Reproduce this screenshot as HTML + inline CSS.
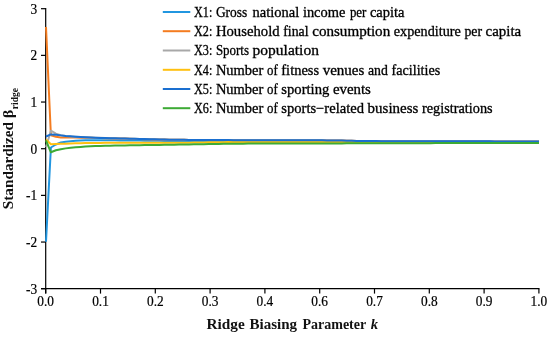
<!DOCTYPE html>
<html lang="en"><head><meta charset="utf-8"><title>Ridge trace</title>
<style>
html,body{margin:0;padding:0;background:#fff;}
body{width:550px;height:337px;overflow:hidden;}
svg{display:block;font-family:"Liberation Serif","DejaVu Serif",serif;}
.ax line{stroke:#000;stroke-width:1.2;}
.cv path{fill:none;stroke-width:2.0;stroke-linejoin:round;stroke-linecap:butt;}
.tk text{font-size:14.3px;fill:#000;stroke:#000;stroke-width:0.2;}
.lg text{font-size:14px;fill:#000;stroke:#000;stroke-width:0.3;}
.lb{font-weight:bold;font-size:14.3px;fill:#111;}
</style></head><body>
<svg width="550" height="337" viewBox="0 0 550 337">
<rect width="550" height="337" fill="#fff"/>
<g class="ax">
<line x1="45.7" y1="8.1" x2="45.7" y2="293.6"/>
<line x1="41" y1="288.7" x2="539.5" y2="288.7"/>
<line x1="41" y1="8.70" x2="45.7" y2="8.70"/>
<line x1="41" y1="55.37" x2="45.7" y2="55.37"/>
<line x1="41" y1="102.04" x2="45.7" y2="102.04"/>
<line x1="41" y1="148.71" x2="45.7" y2="148.71"/>
<line x1="41" y1="195.38" x2="45.7" y2="195.38"/>
<line x1="41" y1="242.05" x2="45.7" y2="242.05"/>
<line x1="41" y1="288.72" x2="45.7" y2="288.72"/>
<line x1="45.70" y1="288.7" x2="45.70" y2="293.6"/>
<line x1="100.50" y1="288.7" x2="100.50" y2="293.6"/>
<line x1="155.30" y1="288.7" x2="155.30" y2="293.6"/>
<line x1="210.10" y1="288.7" x2="210.10" y2="293.6"/>
<line x1="264.90" y1="288.7" x2="264.90" y2="293.6"/>
<line x1="319.70" y1="288.7" x2="319.70" y2="293.6"/>
<line x1="374.50" y1="288.7" x2="374.50" y2="293.6"/>
<line x1="429.30" y1="288.7" x2="429.30" y2="293.6"/>
<line x1="484.10" y1="288.7" x2="484.10" y2="293.6"/>
<line x1="538.90" y1="288.7" x2="538.90" y2="293.6"/>
</g>
<g class="cv">
<path d="M46.0,241.80 L50.9,147.50 L55.9,144.50 L60.8,142.47 L65.7,141.71 L70.7,141.21 L75.6,140.76 L80.5,140.43 L85.4,140.24 L90.4,140.20 L95.3,140.22 L100.2,140.25 L105.2,140.28 L110.1,140.32 L115.0,140.36 L120.0,140.40 L124.9,140.44 L129.8,140.50 L134.7,140.56 L139.7,140.62 L144.6,140.68 L149.5,140.74 L154.5,140.80 L159.4,140.85 L164.3,140.89 L169.2,140.93 L174.2,140.97 L179.1,141.00 L184.0,141.02 L189.0,141.04 L193.9,141.06 L198.8,141.08 L203.8,141.09 L208.7,141.11 L213.6,141.12 L218.6,141.13 L223.5,141.15 L228.4,141.16 L233.3,141.17 L238.3,141.18 L243.2,141.19 L248.1,141.20 L253.1,141.21 L258.0,141.21 L262.9,141.22 L267.9,141.22 L272.8,141.23 L277.7,141.23 L282.6,141.23 L287.6,141.24 L292.5,141.24 L297.4,141.25 L302.4,141.25 L307.3,141.26 L312.2,141.27 L317.1,141.27 L322.1,141.28 L327.0,141.29 L331.9,141.31 L336.9,141.36 L341.8,141.44 L346.7,141.53 L351.7,141.61 L356.6,141.68 L361.5,141.71 L366.4,141.73 L371.4,141.75 L376.3,141.76 L381.2,141.78 L386.2,141.80 L391.1,141.81 L396.0,141.83 L401.0,141.84 L405.9,141.85 L410.8,141.87 L415.8,141.88 L420.7,141.89 L425.6,141.90 L430.5,141.91 L435.5,141.92 L440.4,141.93 L445.3,141.94 L450.3,141.94 L455.2,141.95 L460.1,141.96 L465.1,141.96 L470.0,141.97 L474.9,141.97 L479.8,141.98 L484.8,141.98 L489.7,141.98 L494.6,141.99 L499.6,141.99 L504.5,141.99 L509.4,141.99 L514.4,142.00 L519.3,142.00 L524.2,142.00 L529.1,142.00 L534.1,142.00 L539.0,142.00" stroke="#2196E0"/>
<path d="M46.0,27.00 L50.9,135.20 L55.9,136.80 L60.8,137.50 L65.7,137.50 L70.7,137.51 L75.6,137.57 L80.5,137.65 L85.4,137.74 L90.4,137.82 L95.3,137.92 L100.2,138.03 L105.2,138.15 L110.1,138.27 L115.0,138.39 L120.0,138.50 L124.9,138.62 L129.8,138.75 L134.7,138.88 L139.7,139.02 L144.6,139.15 L149.5,139.27 L154.5,139.39 L159.4,139.49 L164.3,139.59 L169.2,139.67 L174.2,139.73 L179.1,139.79 L184.0,139.84 L189.0,139.88 L193.9,139.92 L198.8,139.96 L203.8,139.99 L208.7,140.02 L213.6,140.05 L218.6,140.08 L223.5,140.10 L228.4,140.12 L233.3,140.14 L238.3,140.16 L243.2,140.18 L248.1,140.19 L253.1,140.21 L258.0,140.22 L262.9,140.23 L267.9,140.24 L272.8,140.25 L277.7,140.26 L282.6,140.26 L287.6,140.27 L292.5,140.28 L297.4,140.29 L302.4,140.31 L307.3,140.32 L312.2,140.33 L317.1,140.34 L322.1,140.36 L327.0,140.38 L331.9,140.42 L336.9,140.50 L341.8,140.61 L346.7,140.74 L351.7,140.86 L356.6,140.96 L361.5,141.01 L366.4,141.05 L371.4,141.08 L376.3,141.11 L381.2,141.13 L386.2,141.15 L391.1,141.17 L396.0,141.19 L401.0,141.20 L405.9,141.22 L410.8,141.23 L415.8,141.24 L420.7,141.25 L425.6,141.26 L430.5,141.28 L435.5,141.29 L440.4,141.30 L445.3,141.31 L450.3,141.32 L455.2,141.33 L460.1,141.33 L465.1,141.34 L470.0,141.35 L474.9,141.36 L479.8,141.36 L484.8,141.37 L489.7,141.37 L494.6,141.38 L499.6,141.38 L504.5,141.39 L509.4,141.39 L514.4,141.39 L519.3,141.40 L524.2,141.40 L529.1,141.40 L534.1,141.40 L539.0,141.40" stroke="#F47C20"/>
<path d="M46.0,147.00 L50.9,130.70 L55.9,133.60 L60.8,135.22 L65.7,135.98 L70.7,136.48 L75.6,136.83 L80.5,137.11 L85.4,137.34 L90.4,137.55 L95.3,137.72 L100.2,137.87 L105.2,138.01 L110.1,138.14 L115.0,138.27 L120.0,138.40 L124.9,138.54 L129.8,138.68 L134.7,138.83 L139.7,138.98 L144.6,139.12 L149.5,139.25 L154.5,139.37 L159.4,139.48 L164.3,139.58 L169.2,139.66 L174.2,139.73 L179.1,139.79 L184.0,139.84 L189.0,139.88 L193.9,139.92 L198.8,139.96 L203.8,139.99 L208.7,140.02 L213.6,140.05 L218.6,140.08 L223.5,140.10 L228.4,140.12 L233.3,140.14 L238.3,140.16 L243.2,140.18 L248.1,140.19 L253.1,140.21 L258.0,140.22 L262.9,140.23 L267.9,140.24 L272.8,140.25 L277.7,140.26 L282.6,140.26 L287.6,140.27 L292.5,140.28 L297.4,140.29 L302.4,140.31 L307.3,140.32 L312.2,140.33 L317.1,140.34 L322.1,140.36 L327.0,140.38 L331.9,140.42 L336.9,140.50 L341.8,140.61 L346.7,140.74 L351.7,140.86 L356.6,140.96 L361.5,141.01 L366.4,141.05 L371.4,141.08 L376.3,141.11 L381.2,141.13 L386.2,141.15 L391.1,141.17 L396.0,141.19 L401.0,141.20 L405.9,141.22 L410.8,141.23 L415.8,141.24 L420.7,141.25 L425.6,141.26 L430.5,141.28 L435.5,141.29 L440.4,141.30 L445.3,141.31 L450.3,141.32 L455.2,141.33 L460.1,141.33 L465.1,141.34 L470.0,141.35 L474.9,141.36 L479.8,141.36 L484.8,141.37 L489.7,141.37 L494.6,141.38 L499.6,141.38 L504.5,141.39 L509.4,141.39 L514.4,141.39 L519.3,141.40 L524.2,141.40 L529.1,141.40 L534.1,141.40 L539.0,141.40" stroke="#A8A8A8"/>
<path d="M46.0,139.60 L50.9,144.20 L55.9,144.00 L60.8,143.84 L65.7,143.69 L70.7,143.54 L75.6,143.35 L80.5,143.19 L85.4,143.06 L90.4,142.99 L95.3,142.94 L100.2,142.90 L105.2,142.86 L110.1,142.84 L115.0,142.82 L120.0,142.80 L124.9,142.79 L129.8,142.78 L134.7,142.77 L139.7,142.76 L144.6,142.76 L149.5,142.75 L154.5,142.75 L159.4,142.74 L164.3,142.73 L169.2,142.72 L174.2,142.71 L179.1,142.70 L184.0,142.68 L189.0,142.64 L193.9,142.58 L198.8,142.52 L203.8,142.45 L208.7,142.37 L213.6,142.30 L218.6,142.23 L223.5,142.17 L228.4,142.12 L233.3,142.07 L238.3,142.04 L243.2,142.01 L248.1,142.00 L253.1,142.00 L258.0,142.00 L262.9,142.00 L267.9,142.00 L272.8,142.00 L277.7,142.00 L282.6,142.00 L287.6,142.00 L292.5,142.00 L297.4,142.00 L302.4,142.00 L307.3,142.00 L312.2,142.00 L317.1,142.00 L322.1,142.00 L327.0,142.00 L331.9,142.00 L336.9,142.01 L341.8,142.03 L346.7,142.05 L351.7,142.08 L356.6,142.09 L361.5,142.10 L366.4,142.11 L371.4,142.11 L376.3,142.12 L381.2,142.13 L386.2,142.13 L391.1,142.14 L396.0,142.14 L401.0,142.15 L405.9,142.15 L410.8,142.15 L415.8,142.16 L420.7,142.16 L425.6,142.16 L430.5,142.17 L435.5,142.17 L440.4,142.17 L445.3,142.18 L450.3,142.18 L455.2,142.18 L460.1,142.18 L465.1,142.19 L470.0,142.19 L474.9,142.19 L479.8,142.19 L484.8,142.19 L489.7,142.19 L494.6,142.20 L499.6,142.20 L504.5,142.20 L509.4,142.20 L514.4,142.20 L519.3,142.20 L524.2,142.20 L529.1,142.20 L534.1,142.20 L539.0,142.20" stroke="#FFC010"/>
<path d="M46.0,136.50 L50.9,134.40 L55.9,134.80 L60.8,135.37 L65.7,135.93 L70.7,136.36 L75.6,136.73 L80.5,137.06 L85.4,137.33 L90.4,137.55 L95.3,137.73 L100.2,137.88 L105.2,138.01 L110.1,138.14 L115.0,138.27 L120.0,138.40 L124.9,138.54 L129.8,138.68 L134.7,138.83 L139.7,138.98 L144.6,139.12 L149.5,139.25 L154.5,139.37 L159.4,139.48 L164.3,139.58 L169.2,139.66 L174.2,139.73 L179.1,139.79 L184.0,139.84 L189.0,139.88 L193.9,139.92 L198.8,139.96 L203.8,139.99 L208.7,140.02 L213.6,140.05 L218.6,140.08 L223.5,140.10 L228.4,140.12 L233.3,140.14 L238.3,140.16 L243.2,140.18 L248.1,140.19 L253.1,140.21 L258.0,140.22 L262.9,140.23 L267.9,140.24 L272.8,140.25 L277.7,140.26 L282.6,140.26 L287.6,140.27 L292.5,140.28 L297.4,140.29 L302.4,140.31 L307.3,140.32 L312.2,140.33 L317.1,140.34 L322.1,140.36 L327.0,140.38 L331.9,140.42 L336.9,140.50 L341.8,140.61 L346.7,140.74 L351.7,140.86 L356.6,140.96 L361.5,141.01 L366.4,141.05 L371.4,141.08 L376.3,141.11 L381.2,141.13 L386.2,141.15 L391.1,141.17 L396.0,141.19 L401.0,141.20 L405.9,141.22 L410.8,141.23 L415.8,141.24 L420.7,141.25 L425.6,141.26 L430.5,141.28 L435.5,141.29 L440.4,141.30 L445.3,141.31 L450.3,141.32 L455.2,141.33 L460.1,141.33 L465.1,141.34 L470.0,141.35 L474.9,141.36 L479.8,141.36 L484.8,141.37 L489.7,141.37 L494.6,141.38 L499.6,141.38 L504.5,141.39 L509.4,141.39 L514.4,141.39 L519.3,141.40 L524.2,141.40 L529.1,141.40 L534.1,141.40 L539.0,141.40" stroke="#1A6FD0"/>
<path d="M46.0,140.50 L50.9,152.30 L55.9,150.30 L60.8,149.21 L65.7,148.38 L70.7,147.80 L75.6,147.37 L80.5,146.94 L85.4,146.53 L90.4,146.25 L95.3,146.06 L100.2,145.92 L105.2,145.80 L110.1,145.70 L115.0,145.60 L120.0,145.50 L124.9,145.41 L129.8,145.32 L134.7,145.24 L139.7,145.16 L144.6,145.09 L149.5,145.02 L154.5,144.95 L159.4,144.88 L164.3,144.82 L169.2,144.75 L174.2,144.68 L179.1,144.61 L184.0,144.54 L189.0,144.46 L193.9,144.36 L198.8,144.27 L203.8,144.18 L208.7,144.09 L213.6,144.00 L218.6,143.92 L223.5,143.84 L228.4,143.78 L233.3,143.72 L238.3,143.67 L243.2,143.63 L248.1,143.61 L253.1,143.59 L258.0,143.57 L262.9,143.56 L267.9,143.54 L272.8,143.53 L277.7,143.52 L282.6,143.51 L287.6,143.51 L292.5,143.50 L297.4,143.50 L302.4,143.50 L307.3,143.50 L312.2,143.50 L317.1,143.50 L322.1,143.50 L327.0,143.50 L331.9,143.50 L336.9,143.46 L341.8,143.40 L346.7,143.33 L351.7,143.26 L356.6,143.21 L361.5,143.20 L366.4,143.19 L371.4,143.18 L376.3,143.18 L381.2,143.17 L386.2,143.16 L391.1,143.16 L396.0,143.15 L401.0,143.15 L405.9,143.14 L410.8,143.14 L415.8,143.14 L420.7,143.13 L425.6,143.13 L430.5,143.13 L435.5,143.12 L440.4,143.12 L445.3,143.12 L450.3,143.12 L455.2,143.11 L460.1,143.11 L465.1,143.11 L470.0,143.11 L474.9,143.11 L479.8,143.11 L484.8,143.11 L489.7,143.10 L494.6,143.10 L499.6,143.10 L504.5,143.10 L509.4,143.10 L514.4,143.10 L519.3,143.10 L524.2,143.10 L529.1,143.10 L534.1,143.10 L539.0,143.10" stroke="#3DAA35"/>
</g>
<g class="tk">
<text transform="translate(45.70,306) scale(0.935,1)" text-anchor="middle">0.0</text>
<text transform="translate(100.50,306) scale(0.935,1)" text-anchor="middle">0.1</text>
<text transform="translate(155.30,306) scale(0.935,1)" text-anchor="middle">0.2</text>
<text transform="translate(210.10,306) scale(0.935,1)" text-anchor="middle">0.3</text>
<text transform="translate(264.90,306) scale(0.935,1)" text-anchor="middle">0.4</text>
<text transform="translate(319.70,306) scale(0.935,1)" text-anchor="middle">0.6</text>
<text transform="translate(374.50,306) scale(0.935,1)" text-anchor="middle">0.7</text>
<text transform="translate(429.30,306) scale(0.935,1)" text-anchor="middle">0.8</text>
<text transform="translate(484.10,306) scale(0.935,1)" text-anchor="middle">0.9</text>
<text transform="translate(538.90,306) scale(0.935,1)" text-anchor="middle">1.0</text>
<text transform="translate(37.1,13.80) scale(0.935,1)" text-anchor="end">3</text>
<text transform="translate(37.1,60.47) scale(0.935,1)" text-anchor="end">2</text>
<text transform="translate(37.1,107.14) scale(0.935,1)" text-anchor="end">1</text>
<text transform="translate(37.1,153.81) scale(0.935,1)" text-anchor="end">0</text>
<text transform="translate(37.1,200.48) scale(0.935,1)" text-anchor="end">-1</text>
<text transform="translate(37.1,247.15) scale(0.935,1)" text-anchor="end">-2</text>
<text transform="translate(37.1,293.82) scale(0.935,1)" text-anchor="end">-3</text>
</g>
<g class="lg">
<line x1="162.8" y1="12.0" x2="190.3" y2="12.0" stroke="#2196E0" stroke-width="2"/>
<text y="16.8"><tspan x="194.0" textLength="18.3" lengthAdjust="spacingAndGlyphs">X1:</tspan> <tspan x="215.9" textLength="31.4" lengthAdjust="spacingAndGlyphs">Gross</tspan> <tspan x="252.6" textLength="46.7" lengthAdjust="spacingAndGlyphs">national</tspan> <tspan x="302.9" textLength="42.5" lengthAdjust="spacingAndGlyphs">income</tspan> <tspan x="349.9" textLength="16.4" lengthAdjust="spacingAndGlyphs">per</tspan> <tspan x="369.9" textLength="34.6" lengthAdjust="spacingAndGlyphs">capita</tspan></text>
<line x1="162.8" y1="31.2" x2="190.3" y2="31.2" stroke="#F47C20" stroke-width="2"/>
<text y="36.0"><tspan x="194.0" textLength="18.3" lengthAdjust="spacingAndGlyphs">X2:</tspan> <tspan x="215.9" textLength="63.7" lengthAdjust="spacingAndGlyphs">Household</tspan> <tspan x="283.2" textLength="25.4" lengthAdjust="spacingAndGlyphs">final</tspan> <tspan x="312.2" textLength="78.0" lengthAdjust="spacingAndGlyphs">consumption</tspan> <tspan x="393.8" textLength="67.0" lengthAdjust="spacingAndGlyphs">expenditure</tspan> <tspan x="464.4" textLength="17.6" lengthAdjust="spacingAndGlyphs">per</tspan> <tspan x="485.6" textLength="35.6" lengthAdjust="spacingAndGlyphs">capita</tspan></text>
<line x1="162.8" y1="50.5" x2="190.3" y2="50.5" stroke="#A8A8A8" stroke-width="2"/>
<text y="55.3"><tspan x="194.0" textLength="18.3" lengthAdjust="spacingAndGlyphs">X3:</tspan> <tspan x="215.9" textLength="33.1" lengthAdjust="spacingAndGlyphs">Sports</tspan> <tspan x="252.6" textLength="66.3" lengthAdjust="spacingAndGlyphs">population</tspan></text>
<line x1="162.8" y1="69.8" x2="190.3" y2="69.8" stroke="#FFC010" stroke-width="2"/>
<text y="74.5"><tspan x="194.0" textLength="18.3" lengthAdjust="spacingAndGlyphs">X4:</tspan> <tspan x="215.9" textLength="47.5" lengthAdjust="spacingAndGlyphs">Number</tspan> <tspan x="267.0" textLength="10.7" lengthAdjust="spacingAndGlyphs">of</tspan> <tspan x="281.3" textLength="37.8" lengthAdjust="spacingAndGlyphs">fitness</tspan> <tspan x="322.7" textLength="41.7" lengthAdjust="spacingAndGlyphs">venues</tspan> <tspan x="368.0" textLength="19.9" lengthAdjust="spacingAndGlyphs">and</tspan> <tspan x="391.5" textLength="48.7" lengthAdjust="spacingAndGlyphs">facilities</tspan></text>
<line x1="162.8" y1="89.0" x2="190.3" y2="89.0" stroke="#1A6FD0" stroke-width="2"/>
<text y="93.8"><tspan x="194.0" textLength="18.3" lengthAdjust="spacingAndGlyphs">X5:</tspan> <tspan x="215.9" textLength="47.5" lengthAdjust="spacingAndGlyphs">Number</tspan> <tspan x="267.0" textLength="10.7" lengthAdjust="spacingAndGlyphs">of</tspan> <tspan x="281.3" textLength="48.0" lengthAdjust="spacingAndGlyphs">sporting</tspan> <tspan x="332.9" textLength="38.0" lengthAdjust="spacingAndGlyphs">events</tspan></text>
<line x1="162.8" y1="108.2" x2="190.3" y2="108.2" stroke="#3DAA35" stroke-width="2"/>
<text y="113.0"><tspan x="194.0" textLength="18.3" lengthAdjust="spacingAndGlyphs">X6:</tspan> <tspan x="215.9" textLength="47.5" lengthAdjust="spacingAndGlyphs">Number</tspan> <tspan x="267.0" textLength="10.7" lengthAdjust="spacingAndGlyphs">of</tspan> <tspan x="281.3" textLength="82.7" lengthAdjust="spacingAndGlyphs">sports−related</tspan> <tspan x="367.6" textLength="50.8" lengthAdjust="spacingAndGlyphs">business</tspan> <tspan x="422.0" textLength="70.6" lengthAdjust="spacingAndGlyphs">registrations</tspan></text>
</g>
<text class="lb" y="329.1"><tspan x="206.4" textLength="38.3" lengthAdjust="spacingAndGlyphs">Ridge</tspan> <tspan x="249.5" textLength="47.6" lengthAdjust="spacingAndGlyphs">Biasing</tspan> <tspan x="302.4" textLength="63.6" lengthAdjust="spacingAndGlyphs">Parameter</tspan> <tspan x="370.8" textLength="7.3" lengthAdjust="spacingAndGlyphs" font-style="italic">k</tspan></text>
<text class="lb" transform="translate(12.9,209.2) rotate(-90)" style="font-size:13.8px"><tspan x="0" textLength="87.2" lengthAdjust="spacingAndGlyphs">Standardized</tspan> <tspan x="91" textLength="8.6" lengthAdjust="spacingAndGlyphs">β</tspan><tspan x="100" dy="5.2" font-size="10.4px" textLength="21.2" lengthAdjust="spacingAndGlyphs">ridge</tspan></text>
</svg>
</body></html>
